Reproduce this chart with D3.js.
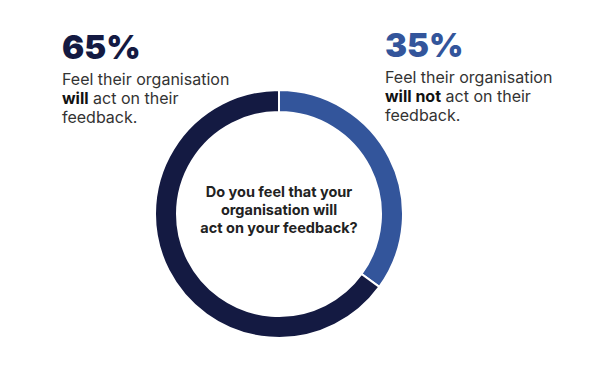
<!DOCTYPE html>
<html>
<head>
<meta charset="utf-8">
<script src="https://cdn.jsdelivr.net/npm/d3@7"></script>
<style>
  body { margin: 0; background: #fff; }
  svg { display: block; font-family: Inter, "Noto Sans", sans-serif; }
</style>
</head>
<body>
<script>
// size of page
var width = 611;
var height = 367;

// data
var categories = ["will not", "will"];
var values = [35, 65];
var colors = ["#33559b", "#141a42"];
var question = ["Do you feel that your", "organisation will", "act on your feedback?"];

var cx = 279, cy = 214;
var outerR = 124, innerR = 102;

var svg = d3.select("body")
  .append("svg")
  .attr("width", width)
  .attr("height", height);

var pie = d3.pie().sort(null).value(function(d) { return d; });
var arc = d3.arc().innerRadius(innerR).outerRadius(outerR);

var g = svg.append("g").attr("transform", "translate(" + cx + "," + cy + ")");

g.selectAll("path")
  .data(pie(values))
  .enter()
  .append("path")
  .attr("d", arc)
  .style("fill", function(d, i) { return colors[i]; })
  .style("stroke", "#fff")
  .style("stroke-width", 2);

// question in the middle
g.append("text")
  .attr("text-anchor", "middle")
  .style("font-size", "14.5px")
  .style("font-weight", 700)
  .style("fill", "#222")
  .selectAll("tspan")
  .data(question)
  .enter()
  .append("tspan")
  .attr("x", 0)
  .attr("y", function(d, i) { return -17 + i * 18; })
  .text(function(d) { return d; });

// callouts
function callout(x, y, i) {
  var t = svg.append("g").attr("transform", "translate(" + x + "," + y + ")");
  t.append("text")
    .attr("y", 0)
    .style("font-size", "33px")
    .style("font-weight", 900)
    .style("fill", colors[i])
    .text(values[i] + "%");
  var body = t.append("text")
    .style("font-size", "16px")
    .style("fill", "#333");
  body.append("tspan").attr("x", 0).attr("y", 26).text("Feel their organisation");
  var l2 = body.append("tspan").attr("x", 0).attr("y", 45);
  l2.append("tspan").style("font-weight", 700).style("fill", "#111").text(categories[i]);
  l2.append("tspan").text(" act on their");
  body.append("tspan").attr("x", 0).attr("y", 64).text("feedback.");
}

callout(62, 59, 1);
callout(385, 57, 0);
</script>
</body>
</html>
